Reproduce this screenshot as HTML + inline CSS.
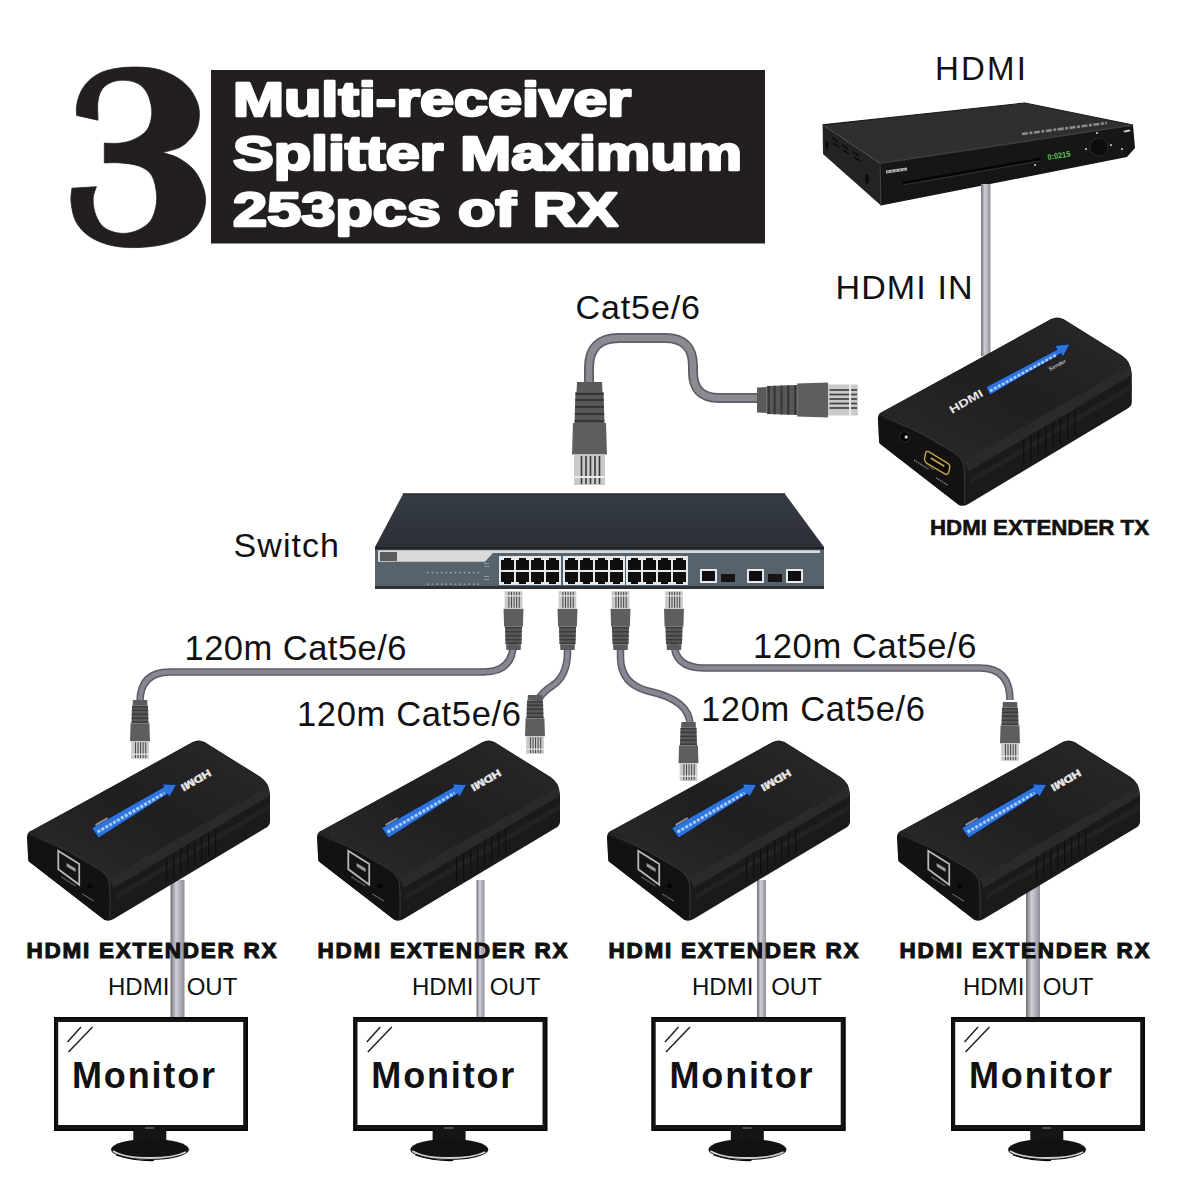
<!DOCTYPE html>
<html><head><meta charset="utf-8"><title>HDMI Extender Multi-receiver Splitter</title>
<style>html,body{margin:0;padding:0;background:#fff;width:1200px;height:1200px;overflow:hidden}svg{display:block;font-family:"Liberation Sans",sans-serif}</style>
</head><body>
<svg width="1200" height="1200" viewBox="0 0 1200 1200">
<defs>
 <linearGradient id="hdmiC" x1="0" x2="1" y1="0" y2="0">
  <stop offset="0" stop-color="#6e6e7a"/><stop offset="0.4" stop-color="#cfcfd6"/><stop offset="1" stop-color="#8e8e9a"/>
 </linearGradient>
 <linearGradient id="swTop" x1="0" y1="0" x2="0" y2="1">
  <stop offset="0" stop-color="#363c43"/><stop offset="1" stop-color="#2a3036"/>
 </linearGradient>
 <linearGradient id="boxTop" x1="0" y1="1" x2="1" y2="0">
  <stop offset="0" stop-color="#2c2a2a"/><stop offset="0.5" stop-color="#201e1e"/><stop offset="1" stop-color="#2a2828"/>
 </linearGradient>
 <g id="conn">
  <!-- boot cap -->
  <path d="M-12.5 0 H12.5 L13 10 H-13 Z" fill="#5a5a5c"/>
  <!-- ribbed boot -->
  <path d="M-14 10 H14 L15 41 H-15 Z" fill="#58585a"/>
  <g stroke="#363638" stroke-width="2.2">
   <line x1="-14" y1="12" x2="14" y2="12"/>
   <line x1="-14.2" y1="18" x2="14.2" y2="18"/>
   <line x1="-14.4" y1="25" x2="14.4" y2="25"/>
   <line x1="-14.6" y1="32" x2="14.6" y2="32"/>
   <line x1="-14.8" y1="39" x2="14.8" y2="39"/>
  </g>
  <!-- body -->
  <path d="M-16.5 41 H16.5 L17.5 72.5 H-17.5 Z" fill="#5e5e60"/>
  <!-- pins -->
  <rect x="-15.5" y="72.5" width="31" height="30.5" fill="#c9c9cb"/>
  <g stroke="#3a3a3c" stroke-width="1.6">
   <line x1="-8" y1="74" x2="-8" y2="102"/><line x1="-3.5" y1="74" x2="-3.5" y2="102"/>
   <line x1="1" y1="74" x2="1" y2="102"/><line x1="5.5" y1="74" x2="5.5" y2="102"/>
   <line x1="10" y1="74" x2="10" y2="102"/>
  </g>
  <rect x="-15.5" y="94" width="31" height="2" fill="#ededee"/>
 </g>
 <g id="rx">
  <!-- silhouette; origin at front-left top corner (27.6,832) -->
  <path d="M-0.6 6 Q-1 1 4 -1 L165 -90 Q171 -93 177 -90 L233 -55 Q242 -49 242.4 -37 L242.4 -10 Q242 -6 238 -4 L86 87 Q81 90 77 88 L2 30 Q0.5 29 0.5 26 Z" fill="#1b1919"/>
  <!-- top face -->
  <path d="M0 3 Q0 0 4 -1.5 L165 -89 Q171 -92 177 -89 L233 -54 Q240 -50 240 -45 L81 46 Q77 40 72.5 37.3 L41 19 L4 0 Z" fill="url(#boxTop)"/>
  <!-- long side highlight band -->
  <path d="M81 46 L240 -45 Q242 -42 242 -36 L86 56 Q84 50 81 46 Z" fill="#2b2929"/>
  <path d="M88 62 L242 -28 L242 -22 L88 68 Z" fill="#232121"/>
  <g stroke="#0f0d0d" stroke-width="1.1"><line x1="139" y1="24.8" x2="139" y2="50.3"/><line x1="146" y1="20.8" x2="146" y2="46.1"/><line x1="153" y1="16.8" x2="153" y2="42.0"/><line x1="160" y1="12.8" x2="160" y2="37.8"/><line x1="167" y1="8.8" x2="167" y2="33.7"/><line x1="174" y1="4.8" x2="174" y2="29.5"/><line x1="181" y1="0.8" x2="181" y2="25.4"/><line x1="188" y1="-3.2" x2="188" y2="21.2"/></g>
  <!-- end face -->
  <path d="M0 4 L41 19.5 L72.5 37.8 Q80 43 81.5 50 Q83 60 82.3 86 L77 88 L2 30 Q0.5 29 0.5 26 Z" fill="#131111"/>
  <path d="M3 1.5 L41 19.5 L72.5 37.8 Q80 43 81.5 50 Q83 60 82.3 86" stroke="#353333" stroke-width="1.2" fill="none"/>
  <!-- RJ45 port -->
  <path d="M29.8 17.3 L52.5 31.5 L52.5 54.6 L29.8 37.8 Z" fill="#b8b8b4"/>
  <path d="M31.6 20.5 L50.8 32.6 L50.8 51 L31.6 36.8 Z" fill="#141414"/>
  <path d="M39 31 L48 36.5 L48 40 L39 34.5 Z" fill="#9a9a98"/>
  <circle cx="62" cy="54" r="2.3" fill="#050505"/>
  <path d="M34 45 L48 54" stroke="#777" stroke-width="1.4" stroke-dasharray="1.5 0.8"/>
  <path d="M55 62 L66 69" stroke="#777" stroke-width="1.4" stroke-dasharray="1.5 0.8"/>
 </g>
 <g id="rxlbl">
  <path d="M64 -4 L136 -45 L135 -48 L149 -47.5 L142 -35 L140 -38 L71 6 Z" fill="#2f74dc" stroke="#0a1a3a" stroke-width="0.8"/>
  <path d="M70 0 L137 -39" stroke="#a9cdfc" stroke-width="3" stroke-dasharray="3 1.5"/>
  <path d="M68 -7 L80 -14" stroke="#9a9a9a" stroke-width="1.5"/>
  <text x="0" y="0" transform="translate(181 -63) rotate(150)" font-family="Liberation Sans" font-weight="bold" font-size="10" fill="#e6e6e6" stroke="#e6e6e6" stroke-width="0.5" textLength="33" lengthAdjust="spacingAndGlyphs">HDMI</text>
 </g>
 <g id="mon">
  <!-- origin: outer top-left (54,1017), width 194 -->
  <rect x="0" y="0" width="194" height="114" fill="#141414"/>
  <rect x="0.8" y="0.8" width="192.4" height="112.4" fill="none" stroke="#060606" stroke-width="1.6"/>
  <rect x="4.2" y="5" width="185" height="103" fill="#fff"/>
  <line x1="13.5" y1="25" x2="27" y2="10" stroke="#222" stroke-width="1.5"/>
  <line x1="14.5" y1="35" x2="38.5" y2="10" stroke="#222" stroke-width="1.5"/>
  <path d="M79.3 112 H112.3 L112.3 125 H79.3 Z" fill="#151515"/>
  <rect x="91" y="110" width="9" height="2" fill="#505050"/>
  <ellipse cx="96" cy="132.5" rx="39" ry="10.5" fill="#121212"/>
  <path d="M59 134 Q70 141 96 141 Q120 141 132 135" stroke="#d0d0d0" stroke-width="1.8" fill="none"/>
  <path d="M62 138 Q80 144 100 143.5" stroke="#050505" stroke-width="1.2" fill="none"/>
 </g>
</defs>

<path d="M76.6 115.4 C76.6 113.8 76.1 109.5 76.6 105.9 C77.1 102.3 78.2 97.7 79.8 94.0 C81.4 90.3 83.3 86.9 86.1 83.7 C88.9 80.5 92.3 77.4 96.4 75.0 C100.5 72.6 104.9 70.8 110.7 69.5 C116.5 68.2 123.8 67.2 131.2 67.1 C138.6 67.0 147.9 67.2 155.0 68.7 C162.1 70.2 168.5 72.8 174.0 75.8 C179.5 78.8 184.5 82.9 188.2 86.9 C191.9 90.9 194.3 95.4 196.2 99.6 C198.0 103.8 199.1 107.7 199.3 112.2 C199.6 116.7 199.0 122.3 197.7 126.5 C196.4 130.7 194.3 134.2 191.4 137.6 C188.5 141.0 185.1 144.6 180.3 147.1 C175.6 149.6 165.8 151.7 162.9 152.6 C165.5 153.5 173.4 155.2 178.7 158.2 C184.0 161.2 190.4 165.5 194.6 170.8 C198.8 176.1 202.4 183.7 204.1 189.8 C205.8 195.9 206.0 201.4 204.9 207.2 C203.8 213.0 201.3 219.7 197.7 224.7 C194.1 229.7 189.8 233.9 183.5 237.3 C177.2 240.7 168.4 243.5 159.7 245.2 C151.0 246.9 139.9 247.7 131.2 247.6 C122.5 247.5 114.6 246.5 107.5 244.5 C100.4 242.5 93.8 239.5 88.5 235.7 C83.2 231.9 78.7 227.0 75.8 221.5 C72.9 216.0 71.8 208.1 71.1 202.5 C70.4 196.9 71.8 190.6 71.9 188.2 L96.4 186.7 C95.9 188.5 93.5 193.5 93.2 197.7 C92.9 201.9 93.5 207.5 94.8 212.0 C96.1 216.5 98.5 221.5 101.2 224.7 C103.9 227.9 107.0 229.6 110.7 231.0 C114.4 232.4 119.1 233.4 123.3 233.4 C127.5 233.4 131.8 232.7 136.0 231.0 C140.2 229.3 145.5 226.5 148.7 223.1 C151.9 219.7 153.7 215.2 155.0 210.4 C156.3 205.7 157.1 200.4 156.6 194.6 C156.1 188.8 154.7 180.3 151.8 175.6 C148.9 170.8 144.5 168.2 139.2 166.1 C133.9 164.0 126.0 163.4 120.2 162.9 C114.4 162.4 107.0 162.9 104.3 162.9 L104.3 143.1 C107.0 143.1 115.2 143.8 120.2 143.1 C125.2 142.4 129.9 141.4 134.4 139.2 C138.9 137.0 144.2 133.9 147.1 129.7 C150.0 125.5 151.5 119.3 151.8 113.8 C152.1 108.2 150.5 101.2 148.7 96.4 C146.8 91.7 144.1 87.9 140.7 85.3 C137.3 82.7 132.6 81.2 128.1 80.6 C123.6 79.9 118.0 80.1 113.8 81.4 C109.6 82.7 105.3 85.2 102.7 88.5 C100.1 91.8 98.8 95.9 98.0 101.2 C97.2 106.5 98.0 117.0 98.0 120.2 Z" fill="#231f20" stroke="#231f20" stroke-width="0.8"/>
<rect x="211" y="70" width="554" height="173.5" fill="#231f20"/>
<text x="233" y="116" font-family="Liberation Sans" font-weight="bold" font-size="49" fill="#fff" stroke="#fff" stroke-width="2.6" stroke-linejoin="round" textLength="398" lengthAdjust="spacingAndGlyphs">Multi-receiver</text>
<text x="233" y="170" font-family="Liberation Sans" font-weight="bold" font-size="49" fill="#fff" stroke="#fff" stroke-width="2.6" stroke-linejoin="round" textLength="509" lengthAdjust="spacingAndGlyphs">Splitter Maximum</text>
<text x="233" y="226" font-family="Liberation Sans" font-weight="bold" font-size="49" fill="#fff" stroke="#fff" stroke-width="2.6" stroke-linejoin="round" textLength="385" lengthAdjust="spacingAndGlyphs">253pcs of RX</text>
<text x="935" y="80" font-family="Liberation Sans" font-size="33" fill="#111" textLength="91" lengthAdjust="spacing" >HDMI</text>
<text x="835.5" y="299" font-family="Liberation Sans" font-size="34" fill="#111" textLength="137" lengthAdjust="spacing" >HDMI IN</text>
<text x="575.5" y="318.5" font-family="Liberation Sans" font-size="34" fill="#111" textLength="124.5" lengthAdjust="spacing" >Cat5e/6</text>
<text x="233.5" y="557" font-family="Liberation Sans" font-size="34" fill="#111" textLength="105.5" lengthAdjust="spacing" >Switch</text>
<text x="184.5" y="660" font-family="Liberation Sans" font-size="34.5" fill="#111" textLength="222" lengthAdjust="spacing" >120m Cat5e/6</text>
<text x="297" y="725.5" font-family="Liberation Sans" font-size="34.5" fill="#111" textLength="224" lengthAdjust="spacing" >120m Cat5e/6</text>
<text x="753" y="658" font-family="Liberation Sans" font-size="34.5" fill="#111" textLength="223.5" lengthAdjust="spacing" >120m Cat5e/6</text>
<text x="701" y="721" font-family="Liberation Sans" font-size="34.5" fill="#111" textLength="224" lengthAdjust="spacing" >120m Cat5e/6</text>
<g>
<path d="M822.6 124.8 L1025 103 L1133 125 L880 163.3 Z" fill="#2f2f31"/>
<path d="M880 163.3 L1133 125 L1135 148 L1127 157 L881 205.5 Z" fill="#161616"/>
<path d="M822.6 124.8 L880 163.3 L881 205.5 L823 154 Z" fill="#232325"/>
<path d="M822.6 124.8 L1025 103 L1133 125" stroke="#1a1a1a" stroke-width="1.2" fill="none"/>
<path d="M880 163.3 L1133 125" stroke="#3c3c3e" stroke-width="1.6"/>
<path d="M880 163.3 L881 205.5" stroke="#3a3a3a" stroke-width="0.8"/>
<path d="M903 183 L1040 159" stroke="#050505" stroke-width="2.5"/>
<path d="M903 185 L1040 161" stroke="#3a3a3a" stroke-width="0.8"/>
<path d="M1022 134 L1107 123" stroke="#8a8a8c" stroke-width="2.6" stroke-dasharray="6 1.5 3 1.5"/>
<text x="1048" y="160" font-family="Liberation Sans" font-weight="bold" font-size="8" fill="#5fc85f" transform="rotate(-9 1048 160)" textLength="23" lengthAdjust="spacingAndGlyphs">0:0215</text>
<circle cx="1099" cy="147" r="9.2" fill="#0d0d0d" stroke="#2e2e2e" stroke-width="1"/>
<path d="M1123 131 l6 -1.5 l2 1.5 l-6 1.5 Z" fill="#cfd8e8"/>
<g fill="#d8d8d8"><circle cx="1097" cy="133" r="1"/><circle cx="1086" cy="149" r="1"/><circle cx="1111" cy="145" r="1"/><circle cx="1122" cy="149" r="1"/><circle cx="1035" cy="165" r="1"/></g>
<path d="M886 172 L907 169" stroke="#b0b0b0" stroke-width="3"/>
<path d="M887 172 L906 169.5" stroke="#2a2a2a" stroke-width="0.8" stroke-dasharray="2 2"/>
<g stroke="#0c0c0c" stroke-width="1.6"><line x1="832" y1="138" x2="838" y2="142"/><line x1="833" y1="143" x2="839" y2="147"/><line x1="842" y1="145" x2="848" y2="149"/><line x1="843" y1="150" x2="849" y2="154"/><line x1="853" y1="152" x2="859" y2="156"/><line x1="854" y1="157" x2="860" y2="161"/></g>
<ellipse cx="827" cy="145" rx="1.5" ry="4" fill="#0c0c0c"/>
<ellipse cx="867" cy="179" rx="2" ry="5" fill="#0c0c0c"/>
</g>
<rect x="981" y="184" width="9.5" height="172" fill="url(#hdmiC)"/>
<g transform="translate(878.5 413) scale(1.045)"><use href="#rx"/></g>
<path d="M986 387 L1057 349.5 L1055 345.5 L1070 344 L1063 357 L1061 353.5 L990 395 Z" fill="#2f74dc" stroke="#0a1a3a" stroke-width="0.8"/>
<path d="M990 391 L1057 354.5" stroke="#a9cdfc" stroke-width="2.6" stroke-dasharray="3 1.5"/>
<text x="0" y="0" transform="translate(1050 371) rotate(-28)" font-family="Liberation Sans" font-weight="bold" font-size="5.5" fill="#b8b8b8">Sender</text>
<text x="0" y="0" transform="translate(952 414) rotate(-30)" font-family="Liberation Sans" font-weight="bold" font-size="11" fill="#e6e6e6" textLength="37" lengthAdjust="spacingAndGlyphs">HDMI</text>
<g transform="translate(878.5 413) scale(1.045)">
<path d="M28 15 L55 32 L56 56 L29 40 Z" fill="#131111"/>
<circle cx="25" cy="23" r="5" fill="#050505" stroke="#2a2a2a" stroke-width="1"/>
<circle cx="26.5" cy="23" r="1.6" fill="#cfcfcf"/>
<path d="M45 39 Q45 36 48 37 L66 48 Q69 50 68 53 L67 57 Q66 60 63 58 L46 48 Q44 46 44 44 Z" fill="#0a0a0a" stroke="#c2a04a" stroke-width="1.4"/>
<path d="M50 43 L63 51" stroke="#c2a04a" stroke-width="1.8"/>
</g>
<text x="930" y="535" font-family="Liberation Sans" font-weight="bold" font-size="22.5" fill="#111" stroke="#111" stroke-width="0.6" textLength="219" lengthAdjust="spacingAndGlyphs">HDMI EXTENDER TX</text>
<path d="M589 383 V368 Q589 338 619 338 H665 Q693 338 693 366 V372 Q693 398 719 398 H758" fill="none" stroke="#5c5c64" stroke-width="10"/>
<path d="M589 383 V368 Q589 338 619 338 H665 Q693 338 693 366 V372 Q693 398 719 398 H758" fill="none" stroke="#8a8a93" stroke-width="6.5"/>
<use href="#conn" transform="translate(589.5 382) rotate(0) scale(1.0)"/>
<use href="#conn" transform="translate(757 400) rotate(-90) scale(1.0 0.98)"/>
<g>
<path d="M403 494 L785 494 L824 547 L375 547 Z" fill="url(#swTop)"/>
<path d="M403 494 L785 494" stroke="#22272c" stroke-width="1.5"/>
<rect x="375" y="547" width="449" height="42" fill="#56626c"/>
<rect x="375" y="547" width="449" height="2.5" fill="#1d2226"/>
<path d="M378 550.3 H820 V553 H493 L485 561.7 H378 Z" fill="#d8dadc"/>
<rect x="380" y="552" width="17" height="9" fill="#5c5c5c"/>
<rect x="375" y="586" width="449" height="3" fill="#2b3136"/>
</g>
<rect x="499" y="556" width="62" height="29" fill="#e6e8ea"/>
<path d="M501 560 h3 v-2 h7 v2 h3 v10 h-13 Z" fill="#0e0e10"/>
<path d="M501 572 h13 v10 h-3 v2 h-7 v-2 h-3 Z" fill="#0e0e10"/>
<path d="M516 560 h3 v-2 h7 v2 h3 v10 h-13 Z" fill="#0e0e10"/>
<path d="M516 572 h13 v10 h-3 v2 h-7 v-2 h-3 Z" fill="#0e0e10"/>
<path d="M531 560 h3 v-2 h7 v2 h3 v10 h-13 Z" fill="#0e0e10"/>
<path d="M531 572 h13 v10 h-3 v2 h-7 v-2 h-3 Z" fill="#0e0e10"/>
<path d="M546 560 h3 v-2 h7 v2 h3 v10 h-13 Z" fill="#0e0e10"/>
<path d="M546 572 h13 v10 h-3 v2 h-7 v-2 h-3 Z" fill="#0e0e10"/>
<rect x="563" y="556" width="62" height="29" fill="#e6e8ea"/>
<path d="M565 560 h3 v-2 h7 v2 h3 v10 h-13 Z" fill="#0e0e10"/>
<path d="M565 572 h13 v10 h-3 v2 h-7 v-2 h-3 Z" fill="#0e0e10"/>
<path d="M580 560 h3 v-2 h7 v2 h3 v10 h-13 Z" fill="#0e0e10"/>
<path d="M580 572 h13 v10 h-3 v2 h-7 v-2 h-3 Z" fill="#0e0e10"/>
<path d="M595 560 h3 v-2 h7 v2 h3 v10 h-13 Z" fill="#0e0e10"/>
<path d="M595 572 h13 v10 h-3 v2 h-7 v-2 h-3 Z" fill="#0e0e10"/>
<path d="M610 560 h3 v-2 h7 v2 h3 v10 h-13 Z" fill="#0e0e10"/>
<path d="M610 572 h13 v10 h-3 v2 h-7 v-2 h-3 Z" fill="#0e0e10"/>
<rect x="626" y="556" width="62" height="29" fill="#e6e8ea"/>
<path d="M628 560 h3 v-2 h7 v2 h3 v10 h-13 Z" fill="#0e0e10"/>
<path d="M628 572 h13 v10 h-3 v2 h-7 v-2 h-3 Z" fill="#0e0e10"/>
<path d="M643 560 h3 v-2 h7 v2 h3 v10 h-13 Z" fill="#0e0e10"/>
<path d="M643 572 h13 v10 h-3 v2 h-7 v-2 h-3 Z" fill="#0e0e10"/>
<path d="M658 560 h3 v-2 h7 v2 h3 v10 h-13 Z" fill="#0e0e10"/>
<path d="M658 572 h13 v10 h-3 v2 h-7 v-2 h-3 Z" fill="#0e0e10"/>
<path d="M673 560 h3 v-2 h7 v2 h3 v10 h-13 Z" fill="#0e0e10"/>
<path d="M673 572 h13 v10 h-3 v2 h-7 v-2 h-3 Z" fill="#0e0e10"/>
<rect x="700" y="569" width="17" height="14" fill="#e6e8ea"/><rect x="702" y="571" width="13" height="10" fill="#0e0e10"/>
<rect x="747" y="569" width="17" height="14" fill="#e6e8ea"/><rect x="749" y="571" width="13" height="10" fill="#0e0e10"/>
<rect x="786" y="569" width="17" height="14" fill="#e6e8ea"/><rect x="788" y="571" width="13" height="10" fill="#0e0e10"/>
<rect x="721" y="574" width="14" height="8" fill="#151515"/>
<rect x="768" y="574" width="14" height="8" fill="#151515"/>
<g fill="#a9b2b9"><rect x="427.0" y="572" width="1.6" height="1.2"/><rect x="427.0" y="583.5" width="1.6" height="1.2"/><rect x="431.6" y="572" width="1.6" height="1.2"/><rect x="431.6" y="583.5" width="1.6" height="1.2"/><rect x="436.2" y="572" width="1.6" height="1.2"/><rect x="436.2" y="583.5" width="1.6" height="1.2"/><rect x="440.8" y="572" width="1.6" height="1.2"/><rect x="440.8" y="583.5" width="1.6" height="1.2"/><rect x="445.4" y="572" width="1.6" height="1.2"/><rect x="445.4" y="583.5" width="1.6" height="1.2"/><rect x="450.0" y="572" width="1.6" height="1.2"/><rect x="450.0" y="583.5" width="1.6" height="1.2"/><rect x="454.6" y="572" width="1.6" height="1.2"/><rect x="454.6" y="583.5" width="1.6" height="1.2"/><rect x="459.2" y="572" width="1.6" height="1.2"/><rect x="459.2" y="583.5" width="1.6" height="1.2"/><rect x="463.8" y="572" width="1.6" height="1.2"/><rect x="463.8" y="583.5" width="1.6" height="1.2"/><rect x="468.4" y="572" width="1.6" height="1.2"/><rect x="468.4" y="583.5" width="1.6" height="1.2"/><rect x="473.0" y="572" width="1.6" height="1.2"/><rect x="473.0" y="583.5" width="1.6" height="1.2"/><rect x="477.6" y="572" width="1.6" height="1.2"/><rect x="477.6" y="583.5" width="1.6" height="1.2"/></g>
<g fill="#8e99a2"><rect x="484" y="563" width="5" height="1"/><rect x="484" y="566" width="5" height="1"/><rect x="484" y="576" width="5" height="1"/><rect x="484" y="579" width="5" height="1"/></g>
<path d="M513.5 650 V642 Q513.5 672 483.5 672 H170 Q140 672 140 702" fill="none" stroke="#5c5c66" stroke-width="7.5"/>
<path d="M513.5 650 V642 Q513.5 672 483.5 672 H170 Q140 672 140 702" fill="none" stroke="#878792" stroke-width="4.5"/>
<path d="M567.5 650 V652 Q567.5 676 552 686 Q535 697 535 712" fill="none" stroke="#5c5c66" stroke-width="7.5"/>
<path d="M567.5 650 V652 Q567.5 676 552 686 Q535 697 535 712" fill="none" stroke="#878792" stroke-width="4.5"/>
<path d="M620.5 650 V658 Q621 684 648 691 Q690 700 690 725" fill="none" stroke="#5c5c66" stroke-width="7.5"/>
<path d="M620.5 650 V658 Q621 684 648 691 Q690 700 690 725" fill="none" stroke="#878792" stroke-width="4.5"/>
<path d="M674 650 V642 Q674 668 704 668 H980 Q1010 668 1010 700" fill="none" stroke="#5c5c66" stroke-width="7.5"/>
<path d="M674 650 V642 Q674 668 704 668 H980 Q1010 668 1010 700" fill="none" stroke="#878792" stroke-width="4.5"/>
<use href="#conn" transform="translate(513.5 650) scale(0.57 -0.57)"/>
<use href="#conn" transform="translate(567.5 650) scale(0.57 -0.57)"/>
<use href="#conn" transform="translate(620.5 650) scale(0.57 -0.57)"/>
<use href="#conn" transform="translate(674 650) scale(0.57 -0.57)"/>
<use href="#conn" transform="translate(140 700) rotate(0) scale(0.57)"/>
<use href="#conn" transform="translate(535 695) rotate(0) scale(0.57)"/>
<use href="#conn" transform="translate(688.5 722) rotate(0) scale(0.57)"/>
<use href="#conn" transform="translate(1010 702) rotate(0) scale(0.57)"/>
<rect x="170.5" y="880" width="14" height="140" fill="url(#hdmiC)"/>
<use href="#rx" transform="translate(27.6 832)"/><use href="#rxlbl" transform="translate(27.6 832)"/>
<use href="#mon" transform="translate(54 1017)"/>
<text x="72" y="1087.5" font-family="Liberation Sans" font-weight="bold" font-size="36" fill="#111" textLength="143" lengthAdjust="spacing">Monitor</text>
<text x="26.6" y="957.5" font-family="Liberation Sans" font-weight="bold" font-size="22.5" fill="#111" stroke="#111" stroke-width="1.1" textLength="250" lengthAdjust="spacing">HDMI EXTENDER RX</text>
<text x="108" y="994.7" font-family="Liberation Sans" font-size="24" fill="#111">HDMI</text>
<text x="186.7" y="994.7" font-family="Liberation Sans" font-size="24" fill="#111">OUT</text>
<rect x="476.5" y="880" width="8" height="140" fill="url(#hdmiC)"/>
<use href="#rx" transform="translate(317.6 832)"/><use href="#rxlbl" transform="translate(317.6 832)"/>
<use href="#mon" transform="translate(353.3 1017)"/>
<text x="371.3" y="1087.5" font-family="Liberation Sans" font-weight="bold" font-size="36" fill="#111" textLength="143" lengthAdjust="spacing">Monitor</text>
<text x="317.6" y="957.5" font-family="Liberation Sans" font-weight="bold" font-size="22.5" fill="#111" stroke="#111" stroke-width="1.1" textLength="250" lengthAdjust="spacing">HDMI EXTENDER RX</text>
<text x="412" y="994.7" font-family="Liberation Sans" font-size="24" fill="#111">HDMI</text>
<text x="489.7" y="994.7" font-family="Liberation Sans" font-size="24" fill="#111">OUT</text>
<rect x="757" y="880" width="9" height="140" fill="url(#hdmiC)"/>
<use href="#rx" transform="translate(607.6 832)"/><use href="#rxlbl" transform="translate(607.6 832)"/>
<use href="#mon" transform="translate(651.5 1017)"/>
<text x="669.5" y="1087.5" font-family="Liberation Sans" font-weight="bold" font-size="36" fill="#111" textLength="143" lengthAdjust="spacing">Monitor</text>
<text x="608.6" y="957.5" font-family="Liberation Sans" font-weight="bold" font-size="22.5" fill="#111" stroke="#111" stroke-width="1.1" textLength="250" lengthAdjust="spacing">HDMI EXTENDER RX</text>
<text x="692" y="994.7" font-family="Liberation Sans" font-size="24" fill="#111">HDMI</text>
<text x="771.2" y="994.7" font-family="Liberation Sans" font-size="24" fill="#111">OUT</text>
<rect x="1026" y="880" width="14" height="140" fill="url(#hdmiC)"/>
<use href="#rx" transform="translate(897.6 832)"/><use href="#rxlbl" transform="translate(897.6 832)"/>
<use href="#mon" transform="translate(951 1017)"/>
<text x="969" y="1087.5" font-family="Liberation Sans" font-weight="bold" font-size="36" fill="#111" textLength="143" lengthAdjust="spacing">Monitor</text>
<text x="899.6" y="957.5" font-family="Liberation Sans" font-weight="bold" font-size="22.5" fill="#111" stroke="#111" stroke-width="1.1" textLength="250" lengthAdjust="spacing">HDMI EXTENDER RX</text>
<text x="963" y="994.7" font-family="Liberation Sans" font-size="24" fill="#111">HDMI</text>
<text x="1042.7" y="994.7" font-family="Liberation Sans" font-size="24" fill="#111">OUT</text></svg>
</body></html>
